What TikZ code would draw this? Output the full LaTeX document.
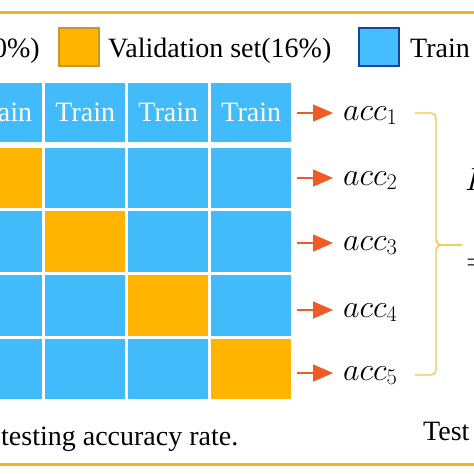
\RequirePackage{fix-cm}
\documentclass[tikz,border=0pt]{standalone}
\usepackage{fontspec}
\setmainfont{Liberation Serif}
\usetikzlibrary{arrows.meta}
\definecolor{cellblue}{RGB}{66,187,250}
\definecolor{cellorange}{RGB}{255,180,0}
\definecolor{rulegold}{RGB}{240,180,40}
\definecolor{bracegold}{RGB}{240,200,70}
\definecolor{arrred}{RGB}{240,90,35}
\definecolor{legoborder}{RGB}{200,150,40}
\definecolor{legblue}{RGB}{70,190,255}
\definecolor{legbborder}{RGB}{20,70,160}
\tikzset{
  cell/.style={minimum width=80pt, inner sep=0pt, anchor=north west, text=white},
  legbox/.style={minimum width=40pt, minimum height=38pt, inner sep=0pt, line width=2pt},
  lbl/.style={inner sep=0pt},
  mathlbl/.style={inner sep=0pt, font=\fontsize{32}{36}\selectfont},
  arr/.style={arrred, line width=1.6pt, -{Triangle[length=20pt,width=17pt]}},
  bracepath/.style={bracegold, line width=1.4pt, rounded corners=5pt},
  rulepath/.style={rulegold, line width=3pt}
}
\begin{document}
\begin{tikzpicture}[x=1pt,y=-1pt, font=\fontsize{28}{32}\selectfont]
\useasboundingbox (0,0) rectangle (474,474);
\clip (0,0) rectangle (474,474);
\fill[white] (0,0) rectangle (474,474);
% rules
\coordinate (rtl) at (0,12); \coordinate (rtr) at (474,12);
\coordinate (rbl) at (0,464); \coordinate (rbr) at (474,464);
\draw[rulepath] (rtl) -- (rtr);
\draw[rulepath] (rbl) -- (rbr);
% legend
\node[lbl, anchor=base east] (lt0) at (40,57) {0\%)};
\node[legbox, fill=cellorange, draw=legoborder] (lo) at (79,47) {};
\node[lbl, anchor=base west] (lt1) at (108,57) {Validation set(16\%)};
\node[legbox, fill=legblue, draw=legbborder] (lb) at (378.5,47) {};
\node[lbl, anchor=base west] (lt2) at (410,57) {Train};
% grid
\foreach \r/\y/\h in {1/83/59,2/148/60,3/211/61,4/275/61,5/339/60}{
  \foreach \c/\x in {0/-38,1/45,2/128,3/211}{
    \ifnum\c=\numexpr\r-2\relax \def\cc{cellorange}\else\def\cc{cellblue}\fi
    \ifnum\r=1 \def\txt{Train}\else\def\txt{}\fi
    \node[cell, fill=\cc, minimum height=\h pt] (c\r\c) at (\x,\y) {\txt};
  }
}
% arrows and accuracies
\foreach \i/\y in {1/113,2/178,3/243,4/310,5/373}{
  \coordinate (s\i) at (297,\y);
  \node[mathlbl, anchor=base west] (acc\i) at (343,\y+7) {$acc_{\i}$};
  \draw[arr] (s\i) -- ([xshift=-10pt]acc\i.west |- s\i);
}
% brace
\coordinate (bt) at (415,113);
\coordinate (bm) at (462,245);
\coordinate (bb) at (415,375);
\draw[bracepath] (bt) -| (436,245) -- (bm);
\draw[bracepath] (bm) -- (436,245) |- (bb);
% right-side partial formula
\node[mathlbl, anchor=base west] (eE) at (465,190) {$E$};
\node[mathlbl, anchor=west] (eq) at (466,265) {$=$};
% bottom texts
\node[lbl, anchor=base west] (bt1) at (1,445) {testing accuracy rate.};
\node[lbl, anchor=base west] (bt2) at (423,440) {Test};
\end{tikzpicture}
\end{document}
